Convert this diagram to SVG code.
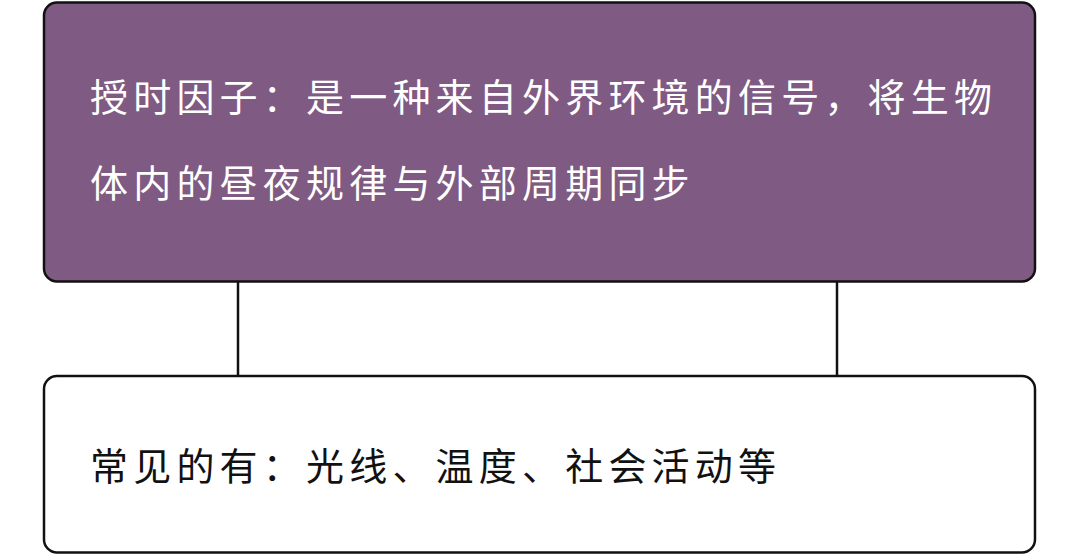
<svg xmlns="http://www.w3.org/2000/svg" width="1080" height="555" viewBox="0 0 1080 555">
<style>
.box{stroke:#111;stroke-width:2.5}
.t{font-family:"Noto Sans CJK SC","Noto Sans",sans-serif;font-size:38px;letter-spacing:5.2px}
.edge{stroke:#111;stroke-width:2.5;fill:none}
</style>
<rect width="1080" height="555" fill="#fff"/>
<g id="connectors">
<line class="edge" x1="238" y1="281" x2="238" y2="377"/>
<line class="edge" x1="837" y1="281" x2="837" y2="377"/>
</g>
<g id="node-top">
<rect class="box" x="44" y="2.5" width="991" height="279" rx="13" fill="#7f5a83"/>
<text class="t" fill="#fff" x="90" y="111">授时因子：是一种来自外界环境的信号，将生物</text>
<text class="t" fill="#fff" x="90" y="197">体内的昼夜规律与外部周期同步</text>
</g>
<g id="node-bottom">
<rect class="box" x="44" y="376" width="991" height="176.5" rx="13" fill="#fff"/>
<text class="t" fill="#111" x="90" y="480">常见的有：光线、温度、社会活动等</text>
</g>
</svg>
